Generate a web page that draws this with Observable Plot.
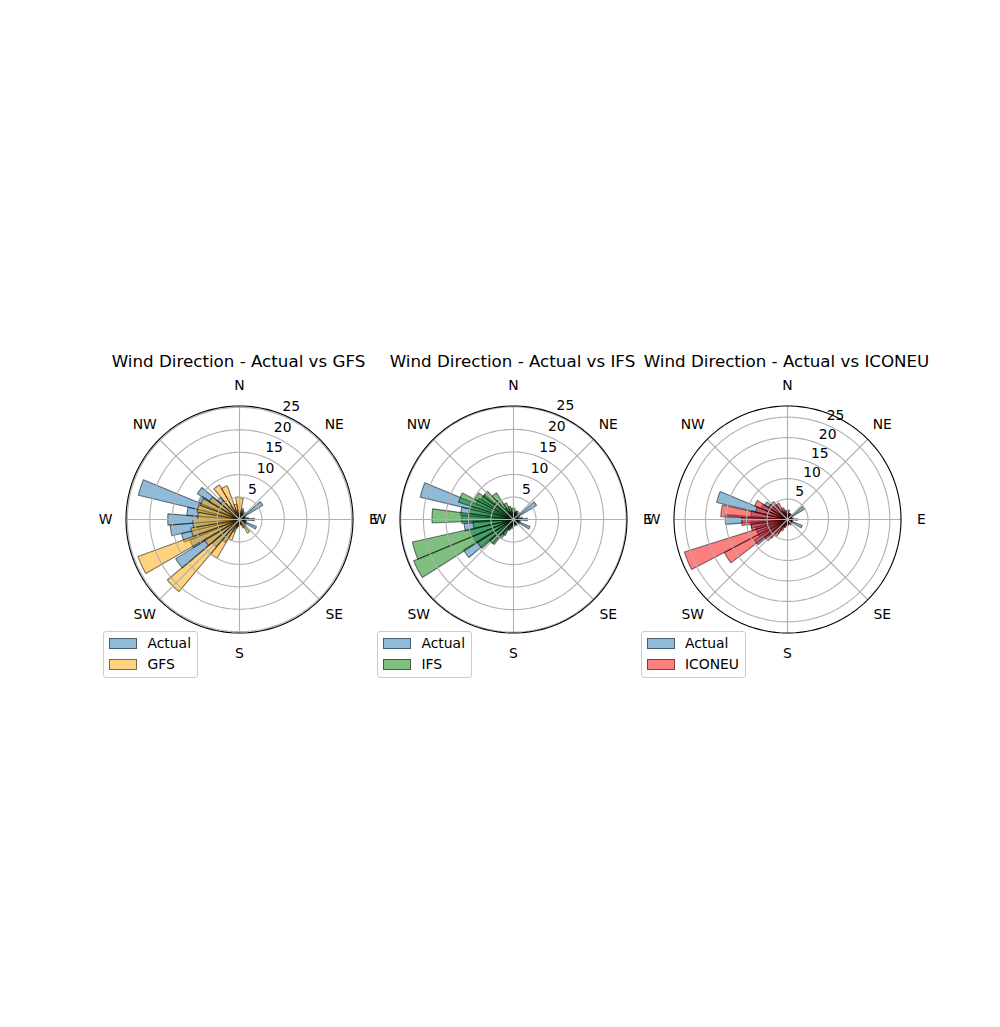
<!DOCTYPE html>
<html><head><meta charset="utf-8">
<script src="https://cdn.jsdelivr.net/npm/d3@7"></script>
<script src="https://cdn.jsdelivr.net/npm/@observablehq/plot@0.6"></script>
<style>
body{margin:0;background:#fff;font-family:"DejaVu Sans",sans-serif;}
#wrap{position:relative;width:1000px;height:1027px;overflow:hidden;background:#fff;}
.panel{position:absolute;}
.title{position:absolute;font-size:16.7px;transform:translate(-50%,-50%);white-space:nowrap;color:#000;}
.legend{position:absolute;background:rgba(255,255,255,0.8);border:1px solid #cccccc;border-radius:3px;padding:1px 6px 2px 5px;font-size:13.9px;}
.legend .row{display:flex;align-items:center;height:21px;}
.legend .sw{width:26px;height:9px;margin-right:10px;}
</style></head><body><div id="wrap"></div>
<script>
// ---- data ----
const directionLabels = ["N", "NE", "E", "SE", "S", "SW", "W", "NW"];
const directionAngles = [0, 45, 90, 135, 180, 225, 270, 315];
const radialTicks = [5, 10, 15, 20, 25];
// Actual: 40 bins of 9 degrees, first bin centred on 0
const actualFirstCenter = 0, actualBinWidth = 9;
// Models: 36 bins of 10 degrees
const modelBinWidth = 10;
const actualGFS = [1.5,1.2,2.5,2,1.5,2,6.1,1.5,1.2,2, 3.3,1.5,1.5,4.1,1.5,1.0,0.8,0.8,0.8,1.0, 1.2,1.5,2,3,6,8,16.7,12,13.3,15.5, 16,11.8,23.2,10,11,6.5,3.5,2.5,2,1.5];
const gfsFirstCenter = 5;
const gfs = [4.8,2,1.5,1.2,1,1,0.8,0.8,1,1, 1,1.2,1.5,2,3.5,2,1.2,1,1,1.5, 5,10,21,9,24.1,11,10.4,9.3,9.6,9.3, 7.8,5.5,8.9,8,3.5,5];
const actualIFS = [1.5,1.5,2,2,1.5,2,6,1.5,1,2, 3.1,1.5,1.5,4,1.5,1,0.8,0.8,0.8,1, 1.5,1.2,1.5,2.5,5,7,13,10,10,11, 11.5,11.8,21.3,9,8.4,5.5,3,2,1.5,1.5];
const ifsFirstCenter = 2.5;
const ifs = [2.5,1.5,1.5,1.2,1,1,0.8,0.8,0.8,1, 1,1,1,1,1.2,1.5,1.2,1.2,1.5,2, 2.5,4,7,9.5,24,23,9,18.1,10,12.8, 9.7,8.5,7,4,3,2.5];
const actualICON = [1.2,1.2,1.5,1.5,1.2,1.5,4.9,1.2,1,1.5, 2.5,1.2,1.2,3.9,1.2,0.8,0.7,0.7,0.7,0.8, 1,1,1.2,2,4,6,9.5,8,8,9, 15.2,9,17.8,7,6.6,4.5,2.5,2,1.5,1.2];
const iconFirstCenter = 7.5;
const iconeu = [2.3,1.5,1.2,1.5,1,1,0.8,0.8,0.8,1, 1,1,1.2,1.5,1.5,1.2,1.2,1.5,1.5,2, 3,5,7,17.4,26.4,9,11.2,16.3,8,8.7, 5.5,5.5,4.5,3,2.3,2];

const panels = [
  {model: "GFS", color: "orange", actual: actualGFS, values: gfs, first: gfsFirstCenter, cx: 238.5},
  {model: "IFS", color: "green", actual: actualIFS, values: ifs, first: ifsFirstCenter, cx: 512.5},
  {model: "ICONEU", color: "red", actual: actualICON, values: iconeu, first: iconFirstCenter, cx: 786.5}
];
const actualColor = "#1f77b4";

// ---- drawing ----
const CY = 519, RPX = 113.5, SIZE = 300;
const rad = d => d * Math.PI / 180;
const px = (r, a) => r * Math.sin(rad(a));
const py = (r, a) => r * Math.cos(rad(a));

function barRows(values, first, width, tag) {
  const rows = [];
  values.forEach((r, i) => {
    const c = first + i * width, a1 = c - width / 2, a2 = c + width / 2;
    const id = tag + i;
    rows.push({id, x: 0, y: 0});
    const n = 8;
    for (let t = 0; t <= n; t++) {
      const a = a1 + (a2 - a1) * t / n;
      rows.push({id, x: px(r, a), y: py(r, a)});
    }
  });
  return rows;
}
function circleRows(r, tag) {
  const rows = [];
  for (let a = 0; a <= 360; a += 2) rows.push({id: tag, x: px(r, a), y: py(r, a)});
  return rows;
}

const wrap = document.getElementById("wrap");
panels.forEach(p => {
  const rmax = 1.05 * Math.max(d3.max(p.values), d3.max(p.actual));
  const s = RPX / rmax;           // px per unit
  const half = SIZE / 2 / s;
  const ticks = radialTicks.filter(t => t < rmax);
  const rings = ticks.flatMap(t => circleRows(t, "r" + t));
  const spokes = directionAngles.map(a => ({x1: 0, y1: 0, x2: px(rmax, a), y2: py(rmax, a)}));
  const labR = 134 / s;
  const dirs = directionLabels.map((l, i) => ({l, x: px(labR, directionAngles[i]), y: py(labR, directionAngles[i])}));
  const rl = ticks.map(t => ({t, x: px(t, 22.5), y: py(t, 22.5)}));
  const chart = Plot.plot({
    width: SIZE, height: SIZE, margin: 0,
    x: {domain: [-half, half], axis: null},
    y: {domain: [-half, half], axis: null},
    style: {background: "transparent", overflow: "visible", fontFamily: "DejaVu Sans, sans-serif", fontSize: "13.9px"},
    marks: [
      Plot.line(barRows(p.actual, actualFirstCenter, actualBinWidth, "a"), {x: "x", y: "y", z: "id", curve: "linear-closed", fill: actualColor, fillOpacity: 0.5, stroke: "#000", strokeOpacity: 0.5, strokeWidth: 1.1}),
      Plot.line(barRows(p.values, p.first, modelBinWidth, "m"), {x: "x", y: "y", z: "id", curve: "linear-closed", fill: p.color, fillOpacity: 0.5, stroke: "#000", strokeOpacity: 0.5, strokeWidth: 1.1}),
      Plot.line(rings, {x: "x", y: "y", z: "id", stroke: "#b0b0b0", strokeWidth: 1.1}),
      Plot.link(spokes, {x1: "x1", y1: "y1", x2: "x2", y2: "y2", stroke: "#b0b0b0", strokeWidth: 1.1}),
      Plot.line(circleRows(rmax, "o"), {x: "x", y: "y", stroke: "#000", strokeWidth: 1.1}),
      Plot.text(dirs, {x: "x", y: "y", text: "l", fill: "#000", fontSize: 13.9}),
      Plot.text(rl, {x: "x", y: "y", text: d => String(d.t), textAnchor: "start", lineAnchor: "bottom", dx: 0, dy: -5, fill: "#000", fontSize: 13.9})
    ]
  });
  const div = document.createElement("div");
  div.className = "panel";
  div.style.left = (p.cx - SIZE / 2) + "px";
  div.style.top = (CY - SIZE / 2) + "px";
  div.appendChild(chart);
  wrap.appendChild(div);

  const t = document.createElement("div");
  t.className = "title";
  t.textContent = "Wind Direction - Actual vs " + p.model;
  t.style.left = p.cx + "px";
  t.style.top = "361px";
  wrap.appendChild(t);

  const lg = document.createElement("div");
  lg.className = "legend";
  lg.style.right = (1000 - (p.cx - 40.5)) + "px";
  lg.style.top = "630.5px";
  [["Actual", actualColor], [p.model, p.color]].forEach(([name, col]) => {
    const row = document.createElement("div");
    row.className = "row";
    const sw = document.createElement("span");
    sw.className = "sw";
    const c = d3.color(col); c.opacity = 0.5;
    sw.style.background = c.formatRgb();
    sw.style.border = "1px solid rgba(0,0,0,0.5)";
    row.appendChild(sw);
    row.appendChild(document.createTextNode(name));
    lg.appendChild(row);
  });
  wrap.appendChild(lg);
});
</script></body></html>
